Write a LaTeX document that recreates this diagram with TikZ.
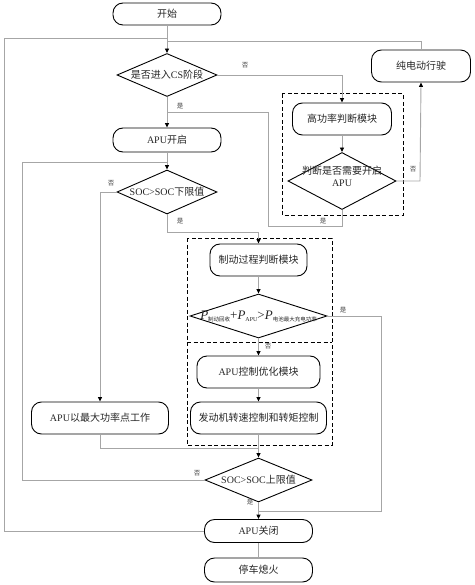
\documentclass[tikz,border=0pt]{standalone}
\usepackage{fontspec}
\setmainfont{Liberation Serif}
\newfontfamily\cj{Noto Sans CJK SC}
\usetikzlibrary{shapes.geometric,arrows.meta}
\tikzset{
  term/.style={draw=black, line width=0.9pt, rounded corners=10pt, inner sep=0pt,
    font=\fontsize{10}{12}\selectfont, text=black!85},
  dia/.style={diamond, draw=black, line width=0.9pt, inner sep=0pt,
    font=\fontsize{10}{12}\selectfont, text=black!85},
  conn/.style={draw=black!35, line width=0.9pt},
  arr/.style={conn, -{Triangle[length=4.5pt,width=4pt,color=black]}},
  lbl/.style={font=\cj\fontsize{6.5}{7}\selectfont, text=black!75, inner sep=0pt},
  dbox/.style={draw=black, line width=1pt, dash pattern=on 4pt off 2.5pt},
}
\begin{document}
\begin{tikzpicture}[x=1pt,y=-1pt]
\useasboundingbox (0,0) rectangle (474,585);
% dashed groups
\draw[dbox] (282,94) rectangle (403,215);
\draw[dbox] (187,238) rectangle (332,445);
\draw[dbox] (187,342) -- (332,342);
% nodes
\node[term, minimum width=108pt, minimum height=22pt] (start) at (167,14) {\cj 开始};
\node[dia, minimum width=100pt, minimum height=43pt] (cs) at (167,75) {\makebox[0pt]{\cj 是否进入{\rmfamily CS}阶段}};
\node[term, minimum width=99pt, minimum height=32pt] (pure) at (421,66) {\cj 纯电动行驶};
\node[term, minimum width=99pt, minimum height=32pt] (hp) at (342,119) {\cj 高功率判断模块};
\node[dia, minimum width=108pt, minimum height=57pt] (need) at (342,181) {\makebox[0pt]{\smash{\begin{tabular}{@{}c@{}}{\cj 判断是否需要开启}\\APU\end{tabular}}}};
\node[term, minimum width=108pt, minimum height=24pt] (apuon) at (167,140) {APU{\cj 开启}};
\node[dia, minimum width=100pt, minimum height=44pt] (soclow) at (167,192) {\makebox[0pt]{SOC>SOC{\cj 下限值}}};
\node[term, minimum width=97pt, minimum height=32pt] (brake) at (258.5,260) {\cj 制动过程判断模块};
\node[dia, minimum width=137pt, minimum height=44pt] (pdia) at (258.5,316) {\makebox[0pt]{\fontsize{13}{13}\selectfont\textit{P}\raisebox{-2pt}{\cj\fontsize{5.5}{6}\selectfont 制动回收}+\textit{P}\raisebox{-2pt}{\fontsize{6}{6}\selectfont APU}>\textit{P}\raisebox{-2pt}{\cj\fontsize{5.5}{6}\selectfont 电池最大充电功率}}};
\node[term, minimum width=123pt, minimum height=32pt] (opt) at (258.5,372) {APU{\cj 控制优化模块}};
\node[term, minimum width=136pt, minimum height=32pt] (eng) at (258.5,418) {\cj 发动机转速控制和转矩控制};
\node[term, minimum width=137pt, minimum height=32pt] (maxp) at (100,418) {APU{\cj 以最大功率点工作}};
\node[dia, minimum width=107pt, minimum height=44pt] (socup) at (258.5,480) {\makebox[0pt]{SOC>SOC{\cj 上限值}}};
\node[term, minimum width=108pt, minimum height=23pt] (apuoff) at (258.5,531) {APU{\cj 关闭}};
\node[term, minimum width=108pt, minimum height=24pt] (stop) at (258.5,570) {\cj 停车熄火};
% junction coordinates
\coordinate (j1) at (167,38);
\coordinate (j2) at (167,41);
\coordinate (j3) at (167,112);
\coordinate (j4) at (167,162);
\coordinate (j5) at (258.5,448);
\coordinate (j6) at (258.5,511);
% connectors
\draw[arr] (start.south) -- (cs.north);
\draw[conn] (apuoff.west) -- (4,531) -- (4,38) -- (j1);
\draw[conn] (pure.north) -- (421,41) -- (j2);
\draw[arr] (cs.east) -- (342,75) -- (hp.north);
\draw[arr] (cs.south) -- (apuon.north);
\draw[arr] (hp.south) -- (need.north);
\draw[arr] (need.east) -- (420,181) -- (pure.south);
\draw[conn] (need.south) -- (342,226) -- (268,226) -- (268,112) -- (j3);
\draw[arr] (apuon.south) -- (soclow.north);
\draw[arr] (soclow.west) -- (100,192) -- (maxp.north);
\draw[arr] (soclow.south) -- (167,232) -- (258.5,232) -- (brake.north);
\draw[arr] (brake.south) -- (pdia.north);
\draw[conn] (pdia.east) -- (381,316) -- (381,511) -- (j6);
\draw[arr] (pdia.south) -- (opt.north);
\draw[arr] (opt.south) -- (eng.north);
\draw[arr] (eng.south) -- (socup.north);
\draw[conn] (maxp.south) -- (100,448) -- (j5);
\draw[conn] (socup.west) -- (22,480) -- (22,162) -- (j4);
\draw[arr] (socup.south) -- (apuoff.north);
\draw[conn] (apuoff.south) -- (stop.north);
% labels
\node[lbl] (l1) at (245,65) {否};
\node[lbl] (l2) at (180,106) {是};
\node[lbl] (l3) at (413,169) {否};
\node[lbl] (l4) at (323,221) {是};
\node[lbl] (l5) at (111,183) {否};
\node[lbl] (l6) at (180,221) {是};
\node[lbl] (l7) at (343,310) {是};
\node[lbl] (l8) at (268,346) {否};
\node[lbl] (l9) at (197,473) {否};
\node[lbl] (l10) at (250,502) {是};
\end{tikzpicture}
\end{document}
